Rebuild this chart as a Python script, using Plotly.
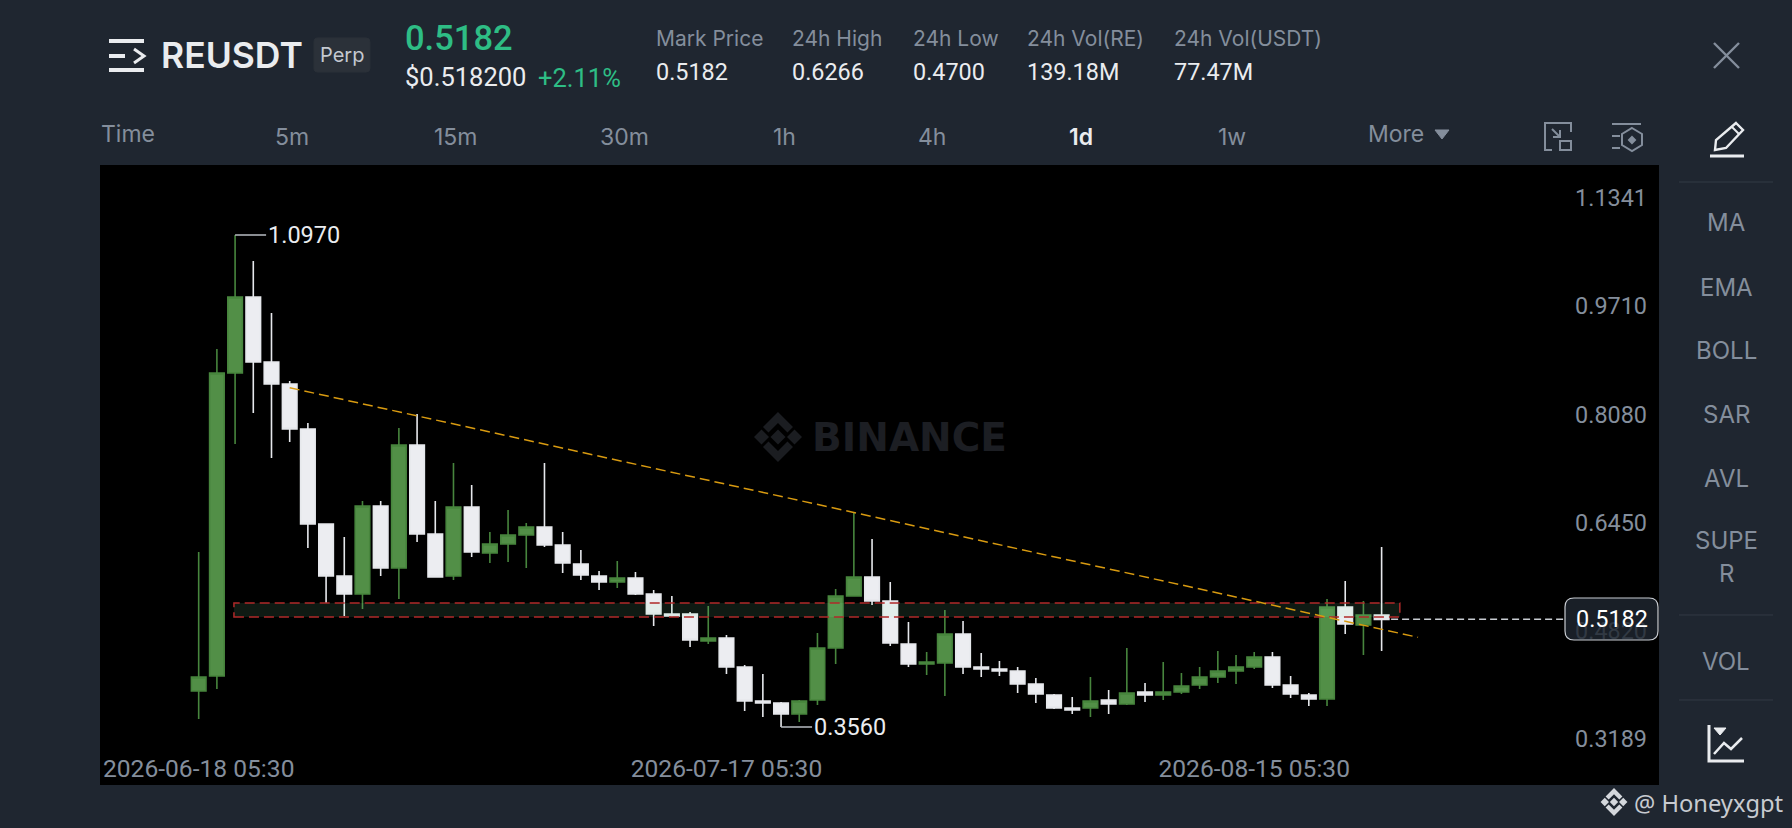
import pandas as pd
import plotly.graph_objects as go

W, H = 1792, 828

first_day = '2026-06-18 05:30'
opens = [0.4103, 0.4329, 0.8892, 1.0036, 0.9057, 0.8726, 0.8048, 0.6618, 0.5835, 0.5563, 0.6889,
         0.5955, 0.7807, 0.6467, 0.5835, 0.6874, 0.6181, 0.6317, 0.6452, 0.6572, 0.6301, 0.6015,
         0.5835, 0.5744, 0.5804, 0.5563, 0.5262, 0.5262, 0.4856, 0.4901, 0.4464, 0.3952, 0.3922,
         0.3756, 0.3967, 0.4750, 0.5533, 0.5820, 0.5458, 0.4811, 0.4510, 0.4525, 0.4961, 0.4464,
         0.4434, 0.4404, 0.4208, 0.4042, 0.3847, 0.3847, 0.3967, 0.3907, 0.4088, 0.4042, 0.4088,
         0.4193, 0.4314, 0.4404, 0.4464, 0.4615, 0.4193, 0.4042, 0.3982, 0.5368, 0.5097, 0.5247]
highs = [0.6196, 0.9253, 1.0970, 1.0578, 0.9795, 0.8771, 0.8139, 0.6618, 0.6422, 0.6964, 0.6964,
         0.8063, 0.8274, 0.6964, 0.7536, 0.7205, 0.6497, 0.6829, 0.6633, 0.7536, 0.6497, 0.6226,
         0.5910, 0.6060, 0.5895, 0.5624, 0.5533, 0.5292, 0.5383, 0.4946, 0.4494, 0.4359, 0.3937,
         0.3967, 0.4976, 0.5639, 0.6798, 0.6392, 0.5744, 0.5142, 0.4690, 0.5323, 0.5157, 0.4675,
         0.4555, 0.4464, 0.4299, 0.4057, 0.4012, 0.4314, 0.4118, 0.4750, 0.4223, 0.4540, 0.4374,
         0.4464, 0.4705, 0.4645, 0.4690, 0.4690, 0.4329, 0.4073, 0.5488, 0.5759, 0.5458, 0.6271]
lows = [0.3681, 0.4133, 0.7823, 0.8289, 0.7612, 0.7853, 0.6256, 0.5428, 0.5232, 0.5338, 0.5835,
        0.5488, 0.6347, 0.5815, 0.5774, 0.6121, 0.6030, 0.6045, 0.5955, 0.6271, 0.5880, 0.5774,
        0.5624, 0.5654, 0.5548, 0.5082, 0.5217, 0.4765, 0.4811, 0.4359, 0.3801, 0.3711, 0.3560,
        0.3636, 0.3892, 0.4510, 0.5533, 0.5398, 0.4780, 0.4464, 0.4344, 0.4027, 0.4359, 0.4314,
        0.4329, 0.4073, 0.3922, 0.3832, 0.3756, 0.3711, 0.3756, 0.3892, 0.3937, 0.3967, 0.4057,
        0.4133, 0.4223, 0.4208, 0.4434, 0.4148, 0.3997, 0.3877, 0.3877, 0.4961, 0.4645, 0.4705]
closes = [0.4314, 0.8892, 1.0036, 0.9057, 0.8726, 0.8048, 0.6618, 0.5835, 0.5563, 0.6889, 0.5955,
          0.7807, 0.6467, 0.5820, 0.6874, 0.6196, 0.6317, 0.6452, 0.6572, 0.6301, 0.6030, 0.5850,
          0.5744, 0.5804, 0.5563, 0.5262, 0.5232, 0.4871, 0.4901, 0.4464, 0.3952, 0.3922, 0.3756,
          0.3952, 0.4750, 0.5533, 0.5820, 0.5458, 0.4826, 0.4510, 0.4540, 0.4961, 0.4464, 0.4434,
          0.4404, 0.4208, 0.4057, 0.3847, 0.3817, 0.3952, 0.3907, 0.4073, 0.4042, 0.4088, 0.4178,
          0.4314, 0.4404, 0.4464, 0.4615, 0.4193, 0.4057, 0.3982, 0.5368, 0.5112, 0.5247, 0.5182]
days = pd.date_range(first_day, periods=len(opens), freq='D')

price_ticks = [1.1341, 0.9710, 0.8080, 0.6450, 0.4820, 0.3189]
date_ticks = ['2026-06-18 05:30', '2026-07-17 05:30', '2026-08-15 05:30']
x_range = ['2026-06-12 19:21', '2026-09-06 11:18']
y_range = [0.2687, 1.2024]

last_price = 0.5182
zone_x = ['2026-06-20 04:00', '2026-08-23 05:30']
zone_y = [0.5217, 0.5428]
trend_x = ['2026-06-23 05:30', '2026-08-24 05:30']
trend_y = [0.8670, 0.4911]
last_line_x = ['2026-08-22 18:00', '2026-09-01 07:00']

stats = [('Mark Price', '0.5182', 655), ('24h High', '0.6266', 791), ('24h Low', '0.4700', 912),
         ('24h Vol(RE)', '139.18M', 1026), ('24h Vol(USDT)', '77.47M', 1173)]
intervals = [('5m', 292), ('15m', 455), ('30m', 624), ('1h', 784), ('4h', 932), ('1d', 1081), ('1w', 1232)]
side_menu = [('MA', 223), ('EMA', 287), ('BOLL', 350), ('SAR', 414), ('AVL', 478), ('SUPE', 540), ('R', 573),
             ('VOL', 661)]

BG = '#1F2630'
GREY = '#848E9C'
GREEN_TXT = '#2EBD85'
FONT = 'Inter'
NUM_FONT = 'Roboto'  # even-width digits, like the app

annotations = []
shapes = []


def fx(x):
    return x / W


def fy(y):
    return 1 - y / H


def label(x, y, text, size=21, color=GREY, anchor='left', weight=400, family=FONT):
    annotations.append(dict(xref='paper', yref='paper', x=fx(x), y=fy(y), text=text, showarrow=False,
                            xanchor=anchor, yanchor='middle', borderpad=0,
                            font=dict(family=family, size=size, color=color, weight=weight)))


def poly(points, color=GREY, width=2, fill=None, close=False):
    path = 'M ' + ' L '.join(f'{fx(a):.5f} {fy(b):.5f}' for a, b in points)
    if close:
        path += ' Z'
    shapes.append(dict(type='path', xref='paper', yref='paper', path=path, layer='above',
                       line=dict(color=color, width=width), fillcolor=fill))


def round_box(x0, y0, x1, y1, r, fill, line_color=None, width=1):
    k = f'{fx(x0 + r):.5f} {fy(y0):.5f}'
    path = (f'M {k} L {fx(x1 - r):.5f} {fy(y0):.5f} Q {fx(x1):.5f} {fy(y0):.5f} {fx(x1):.5f} {fy(y0 + r):.5f} '
            f'L {fx(x1):.5f} {fy(y1 - r):.5f} Q {fx(x1):.5f} {fy(y1):.5f} {fx(x1 - r):.5f} {fy(y1):.5f} '
            f'L {fx(x0 + r):.5f} {fy(y1):.5f} Q {fx(x0):.5f} {fy(y1):.5f} {fx(x0):.5f} {fy(y1 - r):.5f} '
            f'L {fx(x0):.5f} {fy(y0 + r):.5f} Q {fx(x0):.5f} {fy(y0):.5f} {k} Z')
    shapes.append(dict(type='path', xref='paper', yref='paper', path=path, layer='above', fillcolor=fill,
                       line=dict(color=line_color or fill, width=width)))


def bnb_logo(cx, cy, s, color):
    # five diamonds of the exchange mark
    d = s * 0.3
    for ox, oy in [(0, 0), (-s * 0.66, 0), (s * 0.66, 0)]:
        poly([(cx + ox, cy + oy - d), (cx + ox + d, cy + oy), (cx + ox, cy + oy + d), (cx + ox - d, cy + oy)],
             color=color, width=0, fill=color, close=True)
    poly([(cx, cy - s), (cx + s * 0.6, cy - s * 0.4), (cx + s * 0.38, cy - s * 0.18), (cx, cy - s * 0.56),
          (cx - s * 0.38, cy - s * 0.18), (cx - s * 0.6, cy - s * 0.4)], color=color, width=0, fill=color, close=True)
    poly([(cx, cy + s), (cx + s * 0.6, cy + s * 0.4), (cx + s * 0.38, cy + s * 0.18), (cx, cy + s * 0.56),
          (cx - s * 0.38, cy + s * 0.18), (cx - s * 0.6, cy + s * 0.4)], color=color, width=0, fill=color, close=True)


fig = go.Figure()

fig.add_trace(go.Candlestick(
    x=days, open=opens, high=highs, low=lows, close=closes,
    increasing=dict(line=dict(color='#47853D', width=1.6), fillcolor='#528F47'),
    decreasing=dict(line=dict(color='#E6E8EC', width=1.6), fillcolor='#ECEDF1'),
    hoverinfo='skip', showlegend=False,
))

# watermark
bnb_logo(778, 437, 25, '#1B1D21')
label(811, 437, 'BINANCE', size=39, color='#1C1E23', weight=700, family='DejaVu Sans')

# zone and trend line
shapes.append(dict(type='rect', xref='x', yref='y', x0=zone_x[0], x1=zone_x[1], y0=zone_y[0], y1=zone_y[1],
                   layer='above', fillcolor='rgba(150,255,190,0.10)',
                   line=dict(color='#B02A2A', width=1.5, dash='10px,5px')))
shapes.append(dict(type='line', xref='x', yref='y', x0=trend_x[0], x1=trend_x[1], y0=trend_y[0], y1=trend_y[1],
                   layer='above', line=dict(color='#D89A10', width=1.5, dash='10px,5px')))
shapes.append(dict(type='line', xref='x', yref='y', x0=last_line_x[0], x1=last_line_x[1], y0=last_price,
                   y1=last_price, layer='above', line=dict(color='#C8CCD2', width=1.5, dash='7px,4px')))

# last price tag on top of the axis labels
round_box(1565, 598, 1658, 640, 9, 'rgba(31,38,48,0.82)', '#C8CCD2', 1.2)
label(1649, 619, f'{last_price:.4f}', size=23.4, color='#FFFFFF', anchor='right', family=NUM_FONT)

# high and low markers
for day, price in [('2026-06-20 05:30', max(highs)), ('2026-07-20 05:30', min(lows))]:
    annotations.append(dict(x=day, y=price, xref='x', yref='y', text=f'{price:.4f}', xanchor='left',
                            yanchor='middle', ax=31, ay=0, axref='pixel', ayref='pixel', showarrow=True,
                            arrowhead=0, arrowwidth=1.5, arrowcolor='#B8BCC2', standoff=0, startstandoff=0,
                            font=dict(family=NUM_FONT, size=23.5, color='#EAECEF')))

# header
poly([(109, 41), (144, 41)], '#EAECEF', 4)
poly([(109, 56), (125, 56)], '#EAECEF', 4)
poly([(134, 49), (144, 56), (134, 63)], '#EAECEF', 3)
poly([(109, 70), (144, 70)], '#EAECEF', 4)
label(160, 56, 'REUSDT', size=35.5, color='#EAECEF', weight=600)
round_box(314, 38, 370, 72, 4, '#2B3139')
label(342, 55, 'Perp', size=20, color='#C4C9D0', anchor='center')
label(404, 38, '0.5182', size=34.5, color=GREEN_TXT, weight=500, family=NUM_FONT)
label(404, 77, '$0.518200', size=25.5, color='#EAECEF', family=NUM_FONT)
label(537, 78, '+2.11%', size=25.5, color=GREEN_TXT, family=NUM_FONT)
for name, value, x in stats:
    label(x, 39, name, size=21, color=GREY)
    label(x, 72, value, size=23.4, color='#EAECEF', family=NUM_FONT)
poly([(1714, 43), (1739, 68)], GREY, 2.4)
poly([(1739, 43), (1714, 68)], GREY, 2.4)

# interval row
label(100, 134, 'Time', size=23)
for name, x in intervals:
    active = name == '1d'
    label(x, 137, name, size=23, color='#EAECEF' if active else GREY, anchor='center', weight=600 if active else 400)
label(1367, 134, 'More', size=23)
poly([(1435, 130), (1449, 130), (1442, 139)], GREY, 1, GREY, True)
poly([(1562, 123), (1545, 123), (1545, 150), (1552, 150)], GREY, 2)
poly([(1562, 123), (1571, 123), (1571, 132)], GREY, 2)
poly([(1552, 129), (1560, 137)], GREY, 2)
poly([(1560, 130), (1560, 137), (1553, 137)], GREY, 2)
poly([(1560, 141), (1571, 141), (1571, 150), (1560, 150)], GREY, 2, close=True)
poly([(1612, 124), (1641, 124)], GREY, 2)
poly([(1612, 136), (1620, 136)], GREY, 2)
poly([(1612, 148), (1620, 148)], GREY, 2)
poly([(1632, 128), (1642, 134), (1642, 145), (1632, 151), (1622, 145), (1622, 134)], GREY, 2, close=True)
poly([(1632, 137), (1635, 140), (1632, 143), (1629, 140)], GREY, 2, GREY, True)

# side panel
poly([(1710, 156), (1744, 156)], '#EAECEF', 3)
poly([(1736, 123), (1743, 130), (1726, 148), (1715, 150), (1716, 140)], '#EAECEF', 2.4, close=True)
poly([(1732, 127), (1739, 134)], '#EAECEF', 2)
for y in [182, 615, 700]:
    poly([(1679, y), (1773, y)], '#333A44', 1)
for name, y in side_menu:
    label(1726, y, name, size=24, color=GREY, anchor='center')
poly([(1709, 725), (1709, 761), (1744, 761)], '#EAECEF', 3)
poly([(1714, 754), (1724, 743), (1731, 749), (1742, 738)], '#EAECEF', 2.5)
poly([(1714, 728), (1726, 728), (1720, 735)], '#EAECEF', 1, '#EAECEF', True)

# repost mark
bnb_logo(1614, 802, 14, '#D4D7DC')
label(1633, 803, '@ Honeyxgpt', size=23.7, color='#C8CBD0', family='Noto Sans')

fig.update_layout(
    width=W, height=H,
    paper_bgcolor=BG, plot_bgcolor='#000000',
    margin=dict(l=0, r=0, t=0, b=0),
    boxgap=0.2, boxgroupgap=0,
    showlegend=False,
    annotations=annotations,
    shapes=shapes,
    xaxis=dict(
        domain=[fx(100), fx(1659)], type='date', range=x_range, rangeslider=dict(visible=False),
        tickvals=date_ticks, ticktext=[d for d in date_ticks], ticklabelposition='inside', ticks='',
        showgrid=False, zeroline=False, showline=False, tickfont=dict(family=NUM_FONT, size=24.6, color='#848E9C'),
    ),
    yaxis=dict(
        domain=[fy(785), fy(165)], range=y_range, side='right', tickvals=price_ticks,
        ticktext=[f'{p:.4f}' for p in price_ticks], ticklabelposition='inside top', ticks='',
        ticklabelstandoff=9, ticklabelshift=4, showgrid=False, zeroline=False, showline=False,
        tickfont=dict(family=NUM_FONT, size=23.4, color='#848E9C'),
    ),
)

fig.write_html("out.html", config={'displayModeBar': False}, post_script="document.body.style.margin='0';")
